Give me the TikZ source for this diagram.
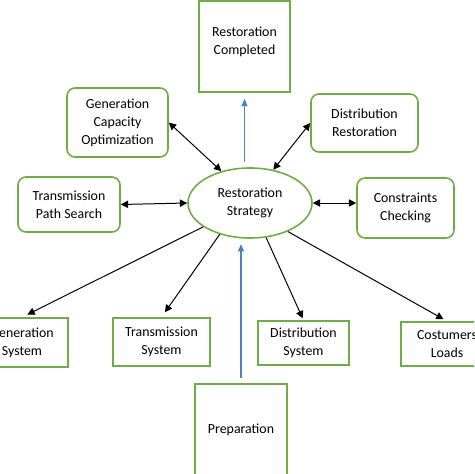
\documentclass[tikz,border=0pt]{standalone}
\usepackage{fontspec}
\setmainfont{Carlito}
\usetikzlibrary{arrows.meta,shapes.geometric}
\definecolor{boxgreen}{RGB}{112,173,71}
\definecolor{arrowblue}{RGB}{79,129,189}
\begin{document}
\begin{tikzpicture}[x=0.75pt,y=-0.75pt,
    every node/.style={font=\fontsize{10.4}{13.5}\selectfont, align=center, inner sep=0pt},
    roundbox/.style={draw=boxgreen, line width=1.2pt, rounded corners=6pt},
    sqbox/.style={draw=boxgreen, line width=1.2pt},
    hub/.style={draw=boxgreen, line width=1.2pt, ellipse, minimum width=93pt, minimum height=52.5pt},
    link/.style={black, line width=0.75pt, -{Triangle[length=5.5pt,width=5.5pt]}},
    duplex/.style={black, line width=0.75pt, {Triangle[length=5.5pt,width=5.5pt]}-{Triangle[length=5.5pt,width=5.5pt]}},
    flow/.style={arrowblue, line width=0.9pt, -{Triangle[length=5.5pt,width=4.5pt]}}]
    \useasboundingbox (0,0) rectangle (474,474);
    \clip (0,0) rectangle (474,474);
    \fill [white] (0,0) rectangle (474,474);
    \node [hub] (strategy) at (250,203) {Restoration\\Strategy};
    \node [sqbox, minimum width=68.25pt, minimum height=68.25pt, text depth=9pt] (done) at (244.5,46.5) {Restoration\\Completed};
    \node [roundbox, minimum width=75.75pt, minimum height=51.75pt] (gco) at (117.5,122.5) {Generation\\Capacity\\Optimization};
    \node [roundbox, minimum width=80.25pt, minimum height=43.5pt] (distrest) at (364.5,123) {Distribution\\Restoration};
    \node [roundbox, minimum width=76.5pt, minimum height=41.25pt] (tps) at (69,204.5) {Transmission\\Path Search};
    \node [roundbox, minimum width=72.75pt, minimum height=45pt] (check) at (405.5,208) {Constraints\\Checking};
    \node [sqbox, minimum width=69pt, minimum height=36.75pt] (gensys) at (22,342.5) {Generation\\System};
    \node [sqbox, minimum width=72.75pt, minimum height=36pt] (transsys) at (161.5,342) {Transmission\\System};
    \node [sqbox, minimum width=68.25pt, minimum height=33pt] (distsys) at (303.5,343) {Distribution\\System};
    \node [sqbox, minimum width=69pt, minimum height=33pt] (loads) at (447,344) {Costumers\\Loads};
    \node [sqbox, anchor=north, minimum width=69pt, text height=37pt, text depth=45pt] (prep) at (241,383) {Preparation};
    \draw [duplex] (gco.east) -- (strategy.132);
    \draw [duplex] (distrest.west) -- (strategy.55);
    \draw [duplex] (tps.east) -- (strategy.west);
    \draw [duplex] (strategy.east) -- (strategy.east -| check.west);
    \draw [flow, shorten <=4pt, shorten >=4.5pt] (done.south |- strategy.north) -- (done.south);
    \draw [flow, shorten <=4pt, shorten >=4pt] (prep.north) -- (prep.north |- strategy.south);
    \draw [link, shorten >=4.5pt] (strategy.207) -- (gensys.north);
    \draw [link, shorten >=4.5pt] (strategy.226) -- (transsys.north);
    \draw [link, shorten >=1.5pt] (strategy.295) -- (distsys.north);
    \draw [link, shorten >=3pt] (strategy.323) -- (loads.north);
\end{tikzpicture}
\end{document}
